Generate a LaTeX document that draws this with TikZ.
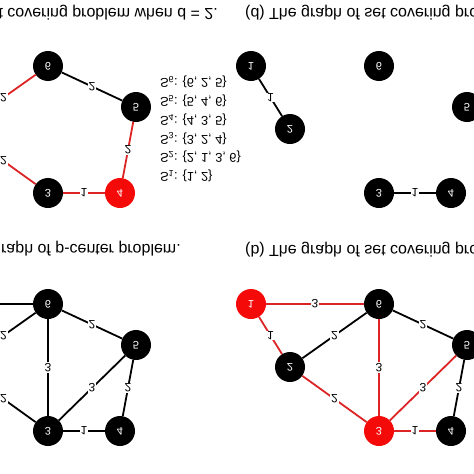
\documentclass[tikz,border=0pt]{standalone}
\usepackage{fontspec}
\setmainfont{Liberation Sans}
\usepackage{tikz}
\usetikzlibrary{arrows.meta,positioning,calc}
\definecolor{nodered}{HTML}{F50A0A}
\definecolor{edgered}{HTML}{DC2424}
\tikzset{
  vert/.style={circle,fill=black,text=white,inner sep=0pt,minimum size=30pt,
               font=\fontsize{11}{13}\selectfont},
  hit/.style={fill=nodered},
  sel b1/.style={hit}, sel b3/.style={hit},
  sel c2/.style={hit}, sel c4/.style={hit},
  edg/.style={line width=1.8pt},
  wlab/.style={fill=white,inner sep=0.8pt,font=\fontsize{12}{14}\selectfont,text=black},
  capt/.style={inner sep=0pt,font=\fontsize{16}{19}\selectfont},
}
\begin{document}
\begin{tikzpicture}[x=1pt,y=1pt,yscale=-1,transform shape]
  \useasboundingbox (0,0) rectangle (474,474);
  \clip (0,0) rectangle (474,474);
  % the four panels share one layout
  \foreach \p/\dx/\dy in {a/-331/238, b/0/238, c/-331/0, d/0/0}{
    \foreach \n/\x/\y in {1/251/66, 2/290/129, 3/379/193, 4/451/193, 5/467/107, 6/379/66}{
      \node[vert,sel \p\n/.try] (\p\n) at (\x+\dx,\y+\dy) {\n};}}
  % p-center graph
  \foreach \u/\v/\w in {1/6/3, 1/2/1, 2/6/2, 2/3/2, 6/5/2, 6/3/3, 5/3/3, 5/4/2, 3/4/1}{
    \draw[edg] (a\u) -- node[wlab]{\w} (a\v);}
  % set covering, d = 3
  \foreach \u/\v/\w/\c in {1/6/3/edgered, 1/2/1/edgered, 2/3/2/edgered, 6/3/3/edgered,
      5/3/3/edgered, 3/4/1/edgered, 2/6/2/black, 6/5/2/black, 5/4/2/black}{
    \draw[edg,\c] (b\u) -- node[wlab]{\w} (b\v);}
  % set covering, d = 2
  \foreach \u/\v/\w/\c in {1/2/1/edgered, 2/6/2/edgered, 2/3/2/edgered, 6/5/2/black,
      5/4/2/edgered, 3/4/1/edgered}{
    \draw[edg,\c] (c\u) -- node[wlab]{\w} (c\v);}
  % set covering, d = 1
  \foreach \u/\v/\w in {1/2/1, 3/4/1}{
    \draw[edg] (d\u) -- node[wlab]{\w} (d\v);}
  \node[inner sep=0pt,anchor=west,align=left,font=\fontsize{12.8}{18.7}\selectfont] (sets) at (160,129)
    {S\textsubscript{1}: \{1, 2\}\\ S\textsubscript{2}: \{2, 1, 3, 6\}\\ S\textsubscript{3}: \{3, 2, 4\}\\
     S\textsubscript{4}: \{4, 3, 5\}\\ S\textsubscript{5}: \{5, 4, 6\}\\ S\textsubscript{6}: \{6, 2, 5\}};
  % captions
  \node[capt,anchor=east] (capc) at (218,12.5) {(c) The graph of set covering problem when d = 2.};
  \node[capt,anchor=west] (capd) at (245,12.5) {(d) The graph of set covering problem when d = 1.};
  \node[capt,anchor=east] (capa) at (181,249) {(a) The graph of p-center problem.};
  \node[capt,anchor=west] (capb) at (245,250) {(b) The graph of set covering problem when d = 3.};
\end{tikzpicture}
\end{document}
